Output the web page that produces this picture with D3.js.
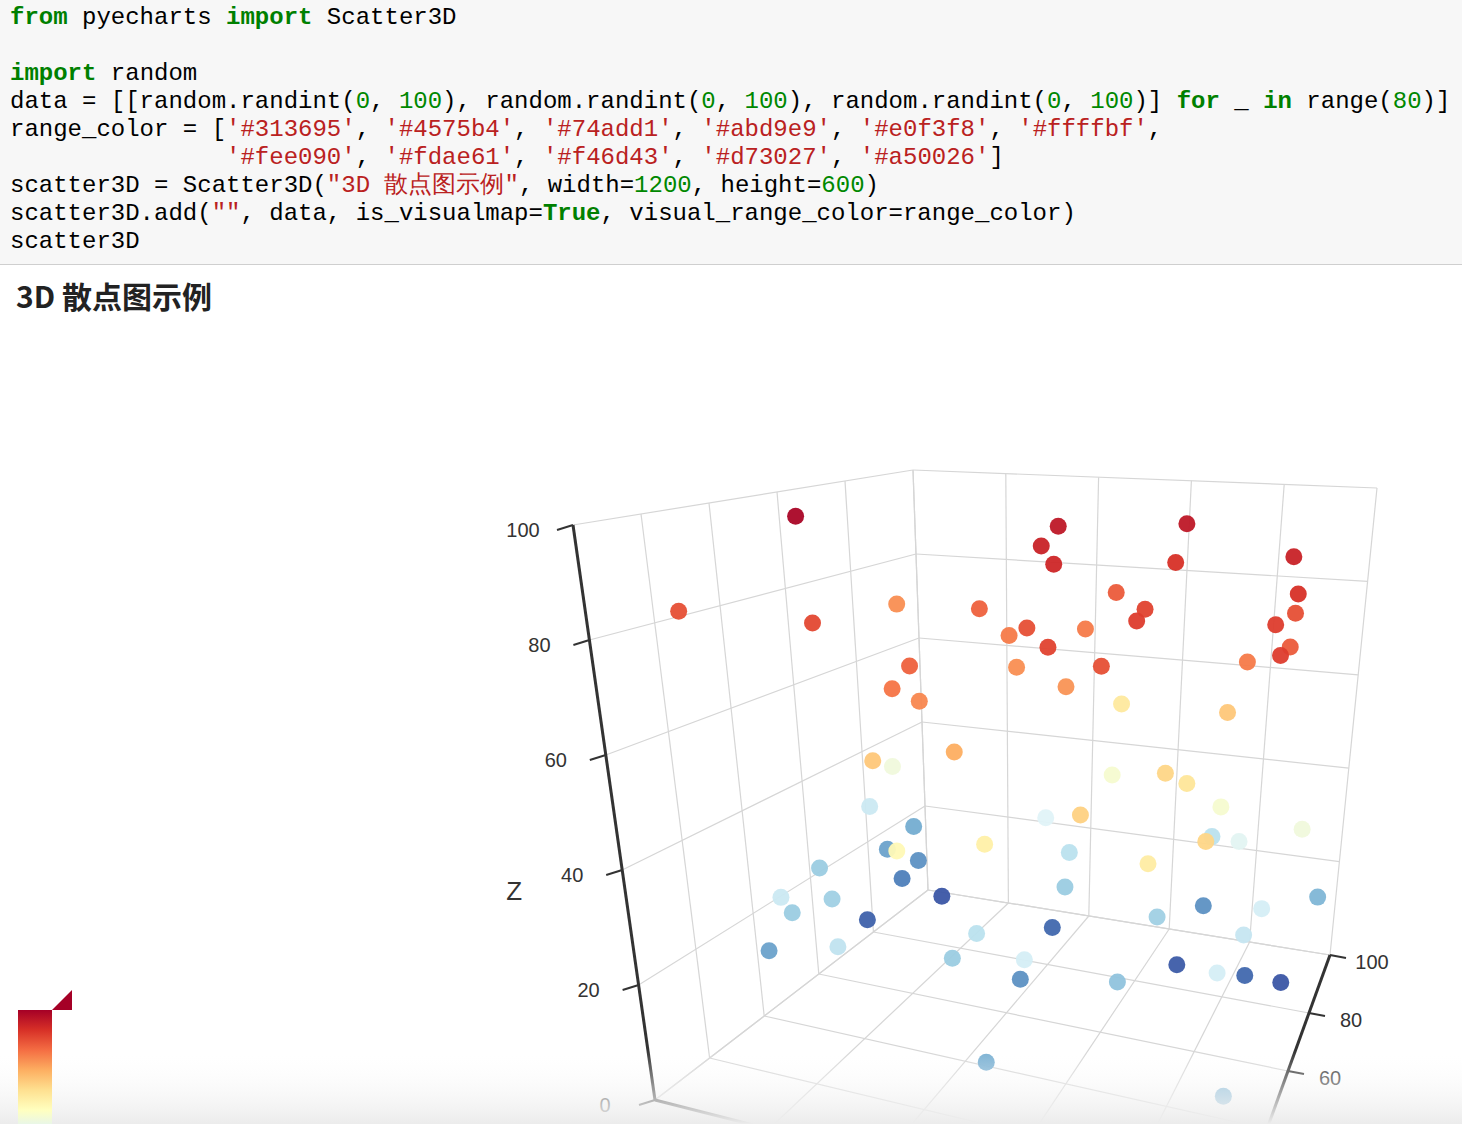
<!DOCTYPE html>
<html><head><meta charset="utf-8">
<script src="https://cdn.jsdelivr.net/npm/d3@7"></script>
<style>body{margin:0;background:#fff}svg{display:block}</style>
</head><body><svg id="c" width="1462" height="1124"></svg>
<script>
const range_color=['#313695','#4575b4','#74add1','#abd9e9','#e0f3f8','#ffffbf','#fee090','#fdae61','#f46d43','#d73027','#a50026'];
const zTicks=[0,20,40,60,80,100];
const yTicks=[0,20,40,60,80,100];
const gridTicks=[0,20,40,60,80,100];
// [x, y, z]
const data=[
[14,40,99],[45,72,95],[46,62,93],[52,52,92],[66,82,95],[68,70,90],[90,70,93],
[9,10,85],[29,10,86],[12,75,75],[39,52,82],[45,50,78],[55,30,85],[64,10,87],
[45,5,82],[46,6,76],[55,60,78],[57,70,83],[70,45,87],[72,32,88],[72,10,85],
[94,55,90],[93,40,88],[93,60,85],[95,45,83],[97,20,88],[87,50,78],[50,40,75],
[60,35,74],[44,0,79],[55,80,57],[82,60,65],[53,0,70],[78,32,62],[80,40,58],
[17,62,45],[39,5,65],[58,68,47],[82,60,47],[98,60,45],[48,60,40],[72,0,63],
[91,0,62],[86,60,41],[57,2,55],[52,62,33],[52,60,27],[82,3,56],[76,78,33],
[95,40,38],[99,82,22],[93,35,35],[73,85,15],[73,52,28],[41,80,8],[70,78,6],
[86,75,8],[93,80,5],[93,10,38],[72,30,25],[49,45,15],[64,0,38],[50,20,33],
[45,22,27],[10,90,5],[97,2,22],[58,0,20],[34,0,34],[8,30,18],[14,28,27],
[18,35,28],[20,12,36],[4,72,7],[8,50,27],[12,62,36],[4,90,20],[3,82,18],
[8,85,15],[6,82,12],[44,0,52]
];
const codeLines=[
 [[24],[["from","k"],[" pyecharts ","n"],["import","k"],[" Scatter3D","n"]]],
 [[80],[["import","k"],[" random","n"]]],
 [[108],[["data = [[random.randint(","n"],["0","d"],[", ","n"],["100","d"],["), random.randint(","n"],["0","d"],[", ","n"],["100","d"],["), random.randint(","n"],["0","d"],[", ","n"],["100","d"],[")] ","n"],["for","k"],[" _ ","n"],["in","k"],[" range(","n"],["80","d"],[")]","n"]]],
 [[136],[["range_color = [","n"],["'#313695'","s"],[", ","n"],["'#4575b4'","s"],[", ","n"],["'#74add1'","s"],[", ","n"],["'#abd9e9'","s"],[", ","n"],["'#e0f3f8'","s"],[", ","n"],["'#ffffbf'","s"],[",","n"]]],
 [[164],[["               ","n"],["'#fee090'","s"],[", ","n"],["'#fdae61'","s"],[", ","n"],["'#f46d43'","s"],[", ","n"],["'#d73027'","s"],[", ","n"],["'#a50026'","s"],["]","n"]]],
 [[192],[["scatter3D = Scatter3D(","n"],["\"3D 散点图示例\"","s"],[", width=","n"],["1200","d"],[", height=","n"],["600","d"],[")","n"]]],
 [[220],[["scatter3D.add(","n"],["\"\"","s"],[", data, is_visualmap=","n"],["True","k"],[", visual_range_color=range_color)","n"]]],
 [[248],[["scatter3D","n"]]]
];
const svg=d3.select("#c");
svg.append("rect").attr("x",0).attr("y",0).attr("width",1462).attr("height",264).attr("fill","#f7f7f7");
svg.append("line").attr("x1",0).attr("x2",1462).attr("y1",264.5).attr("y2",264.5).attr("stroke","#cfcfcf");
const col={k:"#008000",n:"#000",d:"#008800",s:"#ba2121"};
codeLines.forEach(([[y],parts])=>{
  const t=svg.append("text").attr("x",10).attr("y",y).attr("font-family","Liberation Mono, DejaVu Sans Mono, monospace")
   .attr("font-size",24).style("white-space","pre").attr("xml:space","preserve");
  parts.forEach(([s,c])=>t.append("tspan").text(s).attr("fill",col[c]).attr("font-weight",c=="k"?"bold":"normal"));
});
svg.append("text").attr("x",16).attr("y",308).text("3D 散点图示例").attr("font-family","Noto Sans CJK SC, sans-serif")
 .attr("font-weight","bold").attr("font-size",30).attr("fill","#222");
const defs=svg.append("defs");
const fg=defs.append("linearGradient").attr("id","fade").attr("x1",0).attr("x2",0).attr("y1",0).attr("y2",1);
fg.append("stop").attr("offset",0).attr("stop-color","#fff").attr("stop-opacity",0);
fg.append("stop").attr("offset",1).attr("stop-color","#ececec").attr("stop-opacity",1);
const C={"000":[655,1100],"001":[573,525],"010":[928,890],"011":[913,470],
 "100":[1225,1245],"101":[1290,610],"110":[1330,955],"111":[1377,488]};
const s=d3.scaleLinear().domain([0,100]).range([0,1]);
function proj(x,y,z){const u=s(x),v=s(y),w=s(z);let px=0,py=0;
 for(const a of [0,1])for(const b of [0,1])for(const c of [0,1]){
  const wt=(a?u:1-u)*(b?v:1-v)*(c?w:1-w);const p=C[""+a+b+c];px+=wt*p[0];py+=wt*p[1];}
 return [px,py];}
const g=svg.append("g");
function seg(a,b,stroke,w){const p=proj(...a),q=proj(...b);
 g.append("line").attr("x1",p[0]).attr("y1",p[1]).attr("x2",q[0]).attr("y2",q[1]).attr("stroke",stroke).attr("stroke-width",w);}
const gc="#d6d6d6";
gridTicks.forEach(t=>{
 seg([0,0,t],[0,100,t],gc,1.2); seg([0,t,0],[0,t,100],gc,1.2);
 seg([0,100,t],[100,100,t],gc,1.2); seg([t,100,0],[t,100,100],gc,1.2);
 seg([t,0,0],[t,100,0],gc,1.2); seg([0,t,0],[100,t,0],gc,1.2);
});
seg([0,0,0],[0,0,100],"#333",3);
seg([0,0,0],[100,0,0],"#333",3);
seg([100,0,0],[100,100,0],"#333",3);
const lab={"font-family":"Liberation Sans, Arial, sans-serif","font-size":20,"fill":"#333"};
function txt(x,y,t,sz,anchor){const e=g.append("text").attr("x",x).attr("y",y).text(t).attr("text-anchor",anchor||"middle");
 Object.entries(lab).forEach(([k,v])=>e.attr(k,v)); if(sz)e.attr("font-size",sz); return e;}
zTicks.forEach(t=>{const p=proj(0,0,t);
 g.append("line").attr("x1",p[0]).attr("y1",p[1]).attr("x2",p[0]-16).attr("y2",p[1]+5).attr("stroke","#333").attr("stroke-width",2);
 if(p[1]+12<1118) txt(p[0]-50,p[1]+12,t);});
yTicks.forEach(t=>{const p=proj(100,t,0);
 if(p[1]>1124) return;
 g.append("line").attr("x1",p[0]).attr("y1",p[1]).attr("x2",p[0]+16).attr("y2",p[1]+3).attr("stroke","#333").attr("stroke-width",2);
 if(p[1]+14<1118) txt(p[0]+42,p[1]+14,t);});
{const p=proj(0,0,40);txt(p[0]-108,p[1]+30,"Z",26);}
{const p=proj(100,25,0);txt(p[0]+175,p[1]-5,"Y",26);}
const color=d3.scaleLinear().domain(d3.range(11).map(i=>i*10)).range(range_color);
const pts=data.slice().sort((a,b)=>b[1]-a[1]);
g.selectAll("circle.pt").data(pts).join("circle").attr("class","pt")
 .attr("cx",d=>proj(...d)[0]).attr("cy",d=>proj(...d)[1]).attr("r",8.5)
 .attr("fill",d=>color(d[2])).attr("opacity",0.95);
svg.append("rect").attr("x",0).attr("y",1050).attr("width",1462).attr("height",74).attr("fill","url(#fade)");
const vg=defs.append("linearGradient").attr("id","vm").attr("x1",0).attr("x2",0).attr("y1",0).attr("y2",1);
range_color.slice().reverse().forEach((c,i)=>vg.append("stop").attr("offset",i/10).attr("stop-color",c));
svg.append("rect").attr("x",18).attr("y",1010).attr("width",34).attr("height",200).attr("fill","url(#vm)");
svg.append("path").attr("d","M52,1010L72,990L72,1010Z").attr("fill","#a50026");
</script></body></html>
